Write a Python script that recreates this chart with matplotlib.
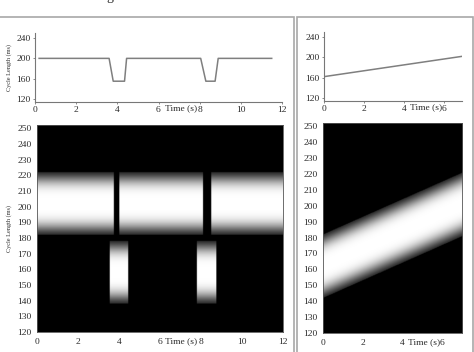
import numpy as np
import matplotlib
matplotlib.use("Agg")
import matplotlib.pyplot as plt
from matplotlib.patches import Rectangle

plt.rcParams['font.family'] = ['Liberation Serif', 'DejaVu Serif']

# --- top traces (cycle length over time) ---
left_t = [0.2, 3.6, 3.8, 4.35, 4.45, 8.05, 8.3, 8.75, 8.9, 11.5]
left_cl = [200, 200, 155, 155, 200, 200, 155, 155, 200, 200]
right_t = [0.0, 6.9]
right_cl = [162, 202]

# --- heat map bands (start s, end s, centre ms) ---
left_bands = [(0.0, 3.75, 202), (4.02, 8.1, 202), (8.5, 12.0, 202),
              (3.55, 4.45, 158), (7.8, 8.75, 158)]
right_start = 162     # ms at t = 0
right_end = 201       # ms at t = 7
band_half = 20        # ms
band_width = 14.5     # ms

top_yticks = [120, 160, 200, 240]
heat_yticks = list(range(120, 251, 10))
left_xticks = [0, 2, 4, 6, 8, 10, 12]
right_xticks = [0, 2, 4, 6]

tick_col = '#2a2a2a'
line_col = '#7f7f7f'
frame_col = '#a8a8a8'


def profile(y, c):
    # flat-topped band with soft edges, cut at +/- band_half
    d = y - c
    v = np.exp(-0.5 * (d / band_width) ** 4)
    v[np.abs(d) > band_half] = 0
    return v


# build images
yy = np.linspace(120, 252, 400)
tl = np.linspace(0, 12, 720)
img_l = np.zeros((len(yy), len(tl)))
for s, e, c in left_bands:
    cols = (tl >= s) & (tl <= e)
    img_l[:, cols] = np.maximum(img_l[:, cols], profile(yy, c)[:, None])

tr = np.linspace(0, 7, 300)
img_r = np.zeros((len(yy), len(tr)))
for j, t in enumerate(tr):
    c = right_start + (right_end - right_start) * t / 7.0
    img_r[:, j] = profile(yy, c)

fig = plt.figure(figsize=(4.74, 3.52), dpi=100)
W, H = 474.0, 352.0


def box(x0, y0, x1, y1):
    return [x0 / W, 1 - y1 / H, (x1 - x0) / W, (y1 - y0) / H]


ax_lt = fig.add_axes(box(35, 33, 282, 102))
ax_lb = fig.add_axes(box(37, 125, 283, 332))
ax_rt = fig.add_axes(box(324, 32, 462, 101))
ax_rb = fig.add_axes(box(323, 123, 462, 333))

# top line plots
for ax, t, cl, xmax, xt in [(ax_lt, left_t, left_cl, 12, left_xticks),
                            (ax_rt, right_t, right_cl, 6.9, right_xticks)]:
    ax.plot(t, cl, color=line_col, lw=1.1)
    ax.set_xlim(0, xmax)
    ax.set_ylim(114, 250)
    ax.set_yticks(top_yticks)
    ax.set_xticks(xt)
    for sp in ['top', 'right']:
        ax.spines[sp].set_visible(False)
    for sp in ['left', 'bottom']:
        ax.spines[sp].set_color('#777777')
        ax.spines[sp].set_linewidth(0.8)
    ax.tick_params(length=1.5, width=0.6, color='#777777', labelsize=6.8,
                   labelcolor=tick_col, pad=1.5)

ax_lt.set_ylabel('Cycle Length (ms)', fontsize=4.5, color=tick_col, labelpad=3)

# heat maps
ax_lb.imshow(img_l, cmap='gray', origin='lower', aspect='auto',
             extent=[0, 12, 120, 252], vmin=0, vmax=1, interpolation='bilinear')
ax_lb.set_xticks(left_xticks)
ax_rb.imshow(img_r, cmap='gray', origin='lower', aspect='auto',
             extent=[0, 7, 120, 252], vmin=0, vmax=1, interpolation='bilinear')
ax_rb.set_xticks(right_xticks)
for ax in [ax_lb, ax_rb]:
    ax.set_yticks(heat_yticks)
    ax.tick_params(length=0, labelsize=6.8, labelcolor=tick_col, pad=4)
    for sp in ax.spines.values():
        sp.set_color('#555555')
        sp.set_linewidth(0.6)
ax_lb.set_ylabel('Cycle Length (ms)', fontsize=4.5, color=tick_col, labelpad=4)

# "Time (s)" squeezed between tick labels
for ax, xpos, off in [(ax_lt, 7.1, -1.5), (ax_rt, 5.1, -1.5),
                      (ax_lb, 7.05, -4), (ax_rb, 5.1, -4)]:
    ax.annotate('Time (s)', xy=(xpos, 0), xycoords=('data', 'axes fraction'),
                xytext=(0, off), textcoords='offset points', ha='center',
                va='top', fontsize=6.8, color=tick_col, annotation_clip=False)

# panel frames
fig.patches.append(Rectangle((-2 / W, -0.05), 296 / W, 1 - 17 / H + 0.05,
                             transform=fig.transFigure, fill=False,
                             edgecolor=frame_col, lw=1.2))
fig.patches.append(Rectangle((296.5 / W, -0.05), 176 / W, 1 - 17 / H + 0.05,
                             transform=fig.transFigure, fill=False,
                             edgecolor=frame_col, lw=1.2))

# caption fragment cut by the crop
fig.text(110 / W, 1.0, 'g', fontsize=10, ha='center', va='baseline', color='#222222')

fig.savefig('out.png', dpi=100)
